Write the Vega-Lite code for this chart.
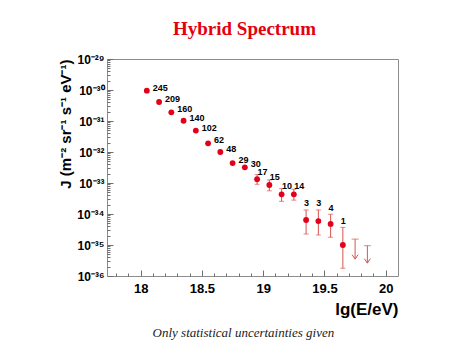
{
  "$schema": "https://vega.github.io/schema/vega-lite/v6.json",
  "background": "white",
  "padding": {"left": 58, "top": 19, "right": 5, "bottom": 5},
  "config": {
    "view": {"stroke": "#8c8c8c", "strokeWidth": 1},
    "font": "Liberation Sans",
    "axis": {
      "labelOverlap": false,
      "labelFlush": false,
      "labelFontSize": 12,
      "labelFontWeight": "bold",
      "labelColor": "black",
      "tickColor": "#6e6e6e",
      "tickWidth": 1,
      "domain": false,
      "grid": false,
      "titleFontWeight": "bold",
      "titleColor": "black"
    }
  },
  "title": {
    "text": "Only statistical uncertainties given",
    "orient": "bottom",
    "anchor": "middle",
    "frame": "bounds",
    "dx": 15,
    "offset": 9,
    "font": "Liberation Serif",
    "fontStyle": "italic",
    "fontWeight": "normal",
    "fontSize": 13,
    "color": "#1a1a1a"
  },
  "datasets": {
    "pts": [
      {"x": 18.05, "J": 9.5e-31, "n": "245"},
      {"x": 18.15, "J": 4.1e-31, "n": "209"},
      {"x": 18.25, "J": 1.9e-31, "n": "160"},
      {"x": 18.35, "J": 1.02e-31, "n": "140"},
      {"x": 18.45, "J": 4.9e-32, "n": "102"},
      {"x": 18.55, "J": 1.9e-32, "n": "62"},
      {"x": 18.65, "J": 1.0e-32, "n": "48"},
      {"x": 18.75, "J": 4.4e-33, "n": "29"},
      {"x": 18.85, "J": 3.2e-33, "n": "30"},
      {"x": 18.95, "J": 1.32e-33, "lo": 9.1e-34, "hi": 1.86e-33, "n": "17"},
      {"x": 19.05, "J": 8.6e-34, "lo": 5.6e-34, "hi": 1.26e-33, "n": "15"},
      {"x": 19.15, "J": 4.3e-34, "lo": 2.57e-34, "hi": 6.6e-34, "n": "10"},
      {"x": 19.25, "J": 4.3e-34, "lo": 2.8e-34, "hi": 6.3e-34, "n": "14"},
      {"x": 19.35, "J": 6.4e-35, "lo": 2.26e-35, "hi": 1.35e-34, "n": "3"},
      {"x": 19.45, "J": 5.9e-35, "lo": 2.1e-35, "hi": 1.35e-34, "n": "3"},
      {"x": 19.55, "J": 4.8e-35, "lo": 1.78e-35, "hi": 9.8e-35, "n": "4"},
      {"x": 19.65, "J": 1.0e-35, "lo": 1.78e-36, "hi": 3.7e-35, "n": "1"}
    ],
    "arrows": [
      {"x": 19.75, "ul": 1.55e-35, "tip": 3.5e-36},
      {"x": 19.85, "ul": 9.5e-36, "tip": 2.6e-36}
    ]
  },
  "vconcat": [
    {
      "width": 291,
      "height": 217,
      "title": {
        "text": "Hybrid Spectrum",
        "anchor": "middle",
        "frame": "group",
        "dx": -8,
        "offset": 14,
        "font": "Liberation Serif",
        "fontWeight": "bold",
        "fontSize": 19,
        "color": "#e3000f"
      },
      "resolve": {"axis": {"x": "independent", "y": "independent"}},
      "layer": [
        {
          "data": {"name": "pts"},
          "transform": [{"filter": "isValid(datum.lo)"}],
          "mark": {"type": "rule", "color": "#d9534f", "strokeWidth": 1},
          "encoding": {
            "x": {
              "field": "x", "type": "quantitative",
              "scale": {"domain": [17.725, 20.1], "nice": false, "zero": false},
              "axis": {
                "orient": "bottom",
                "values": [18, 18.5, 19, 19.5, 20],
                "format": "~g",
                "labelFontSize": 13,
                "tickSize": -6,
                "labelPadding": 12,
                "title": "lg(E/eV)",
                "titleAnchor": "end",
                "titleFontSize": 17,
                "titlePadding": 6
              }
            },
            "y": {
              "field": "lo", "type": "quantitative",
              "scale": {"type": "log", "domain": [1e-36, 1e-29], "nice": false},
              "axis": {
                "orient": "left",
                "values": [1e-36, 1e-35, 1e-34, 1e-33, 1e-32, 1e-31, 1e-30, 1e-29],
                "labelExpr": "'10⁻' + substring('⁰¹²³⁴⁵⁶⁷⁸⁹', floor(-round(log(datum.value)/LN10)/10), floor(-round(log(datum.value)/LN10)/10) + 1) + substring('⁰¹²³⁴⁵⁶⁷⁸⁹', (-round(log(datum.value)/LN10)) % 10, (-round(log(datum.value)/LN10)) % 10 + 1)",
                "tickSize": -6,
                "labelPadding": 9,
                "title": "J (m⁻² sr⁻¹ s⁻¹ eV⁻¹)",
                "titleAnchor": "end",
                "titleFontSize": 15,
                "titlePadding": 3
              }
            },
            "y2": {"field": "hi"}
          }
        },
        {
          "data": {"name": "pts"},
          "transform": [{"filter": "isValid(datum.lo)"}, {"fold": ["lo", "hi"], "as": ["end", "val"]}],
          "mark": {"type": "tick", "orient": "horizontal", "color": "#d9534f", "size": 5, "thickness": 1},
          "encoding": {
            "x": {
              "field": "x", "type": "quantitative",
              "axis": {
                "orient": "bottom",
                "values": [17.8, 17.9, 18.1, 18.2, 18.3, 18.4, 18.6, 18.7, 18.8, 18.9, 19.1, 19.2, 19.3, 19.4, 19.6, 19.7, 19.8, 19.9],
                "labels": false,
                "tickSize": -3,
                "title": null
              }
            },
            "y": {
              "field": "val", "type": "quantitative",
              "axis": {
                "orient": "left",
                "values": [2e-36, 3e-36, 4e-36, 5e-36, 6e-36, 7e-36, 8e-36, 9e-36,
                           2e-35, 3e-35, 4e-35, 5e-35, 6e-35, 7e-35, 8e-35, 9e-35,
                           2e-34, 3e-34, 4e-34, 5e-34, 6e-34, 7e-34, 8e-34, 9e-34,
                           2e-33, 3e-33, 4e-33, 5e-33, 6e-33, 7e-33, 8e-33, 9e-33,
                           2e-32, 3e-32, 4e-32, 5e-32, 6e-32, 7e-32, 8e-32, 9e-32,
                           2e-31, 3e-31, 4e-31, 5e-31, 6e-31, 7e-31, 8e-31, 9e-31,
                           2e-30, 3e-30, 4e-30, 5e-30, 6e-30, 7e-30, 8e-30, 9e-30],
                "labels": false,
                "tickSize": -3,
                "title": null
              }
            }
          }
        },
        {
          "data": {"name": "arrows"},
          "mark": {"type": "rule", "color": "#d9534f", "strokeWidth": 1},
          "encoding": {
            "x": {"field": "x", "type": "quantitative", "axis": null},
            "y": {"field": "ul", "type": "quantitative", "axis": null},
            "y2": {"field": "tip"}
          }
        },
        {
          "data": {"name": "arrows"},
          "mark": {"type": "tick", "orient": "horizontal", "color": "#d9534f", "size": 7, "thickness": 1},
          "encoding": {
            "x": {"field": "x", "type": "quantitative", "axis": null},
            "y": {"field": "ul", "type": "quantitative", "axis": null}
          }
        },
        {
          "data": {"name": "arrows"},
          "mark": {"type": "point", "shape": "M-1,-1.5L0,0L1,-1.5", "filled": false, "stroke": "#d9534f", "strokeWidth": 1, "size": 36, "opacity": 1},
          "encoding": {
            "x": {"field": "x", "type": "quantitative", "axis": null},
            "y": {"field": "tip", "type": "quantitative", "axis": null}
          }
        },
        {
          "data": {"name": "pts"},
          "mark": {"type": "circle", "color": "#e3001b", "size": 34, "opacity": 1},
          "encoding": {
            "x": {"field": "x", "type": "quantitative", "axis": null},
            "y": {"field": "J", "type": "quantitative", "axis": null}
          }
        },
        {
          "data": {"name": "pts"},
          "transform": [{"filter": "datum.x < 18.9"}],
          "mark": {"type": "text", "align": "left", "baseline": "middle", "dx": 6, "dy": -3, "font": "Liberation Sans", "fontWeight": "bold", "fontSize": 9, "color": "black"},
          "encoding": {
            "x": {"field": "x", "type": "quantitative", "axis": null},
            "y": {"field": "J", "type": "quantitative", "axis": null},
            "text": {"field": "n"}
          }
        },
        {
          "data": {"name": "pts"},
          "transform": [{"filter": "datum.x > 18.9 && datum.x < 19.3"}],
          "mark": {"type": "text", "align": "left", "baseline": "middle", "dx": 0.5, "dy": -3, "font": "Liberation Sans", "fontWeight": "bold", "fontSize": 9, "color": "black"},
          "encoding": {
            "x": {"field": "x", "type": "quantitative", "axis": null},
            "y": {"field": "hi", "type": "quantitative", "axis": null},
            "text": {"field": "n"}
          }
        },
        {
          "data": {"name": "pts"},
          "transform": [{"filter": "datum.x > 19.3"}],
          "mark": {"type": "text", "align": "center", "baseline": "middle", "dx": 0.5, "dy": -6.5, "font": "Liberation Sans", "fontWeight": "bold", "fontSize": 9, "color": "black"},
          "encoding": {
            "x": {"field": "x", "type": "quantitative", "axis": null},
            "y": {"field": "hi", "type": "quantitative", "axis": null},
            "text": {"field": "n"}
          }
        }
      ]
    }
  ]
}
